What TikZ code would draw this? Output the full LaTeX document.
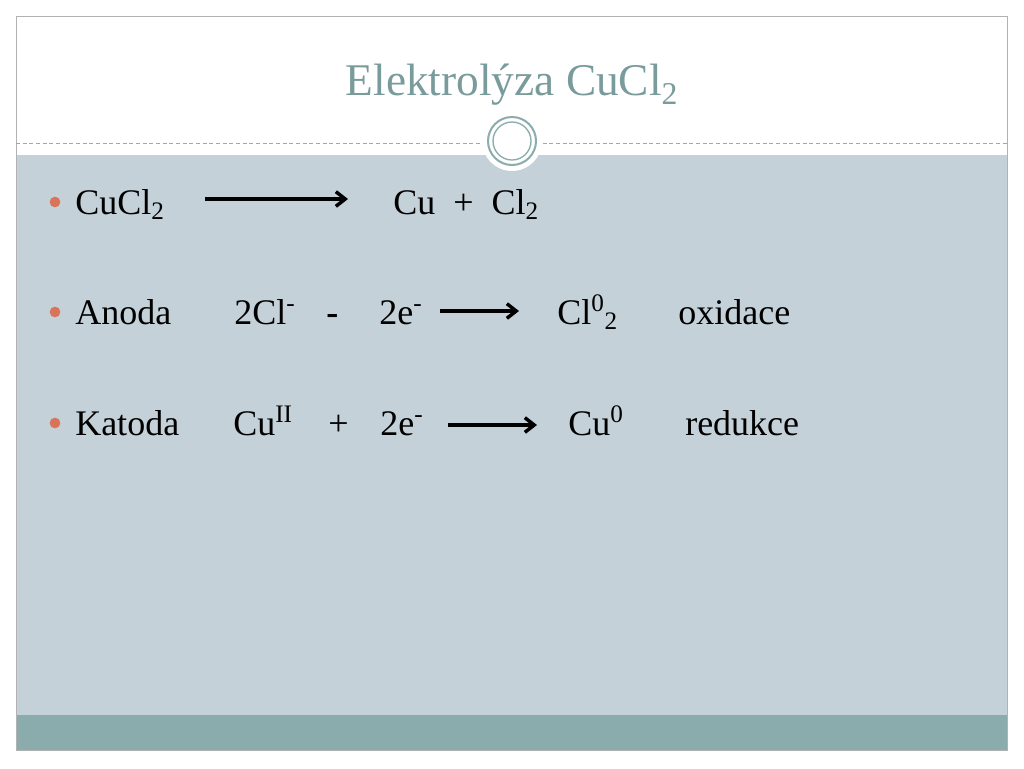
\documentclass[tikz,border=0pt]{standalone}
\usepackage{fontspec}
\setmainfont{Liberation Serif}
\usetikzlibrary{positioning,arrows.meta}
\definecolor{bodygray}{HTML}{C5D1D8}
\definecolor{bandteal}{HTML}{8AACAC}
\definecolor{titleteal}{HTML}{7A9B9B}
\definecolor{bulletred}{HTML}{D9735A}
\begin{document}
\begin{tikzpicture}[x=0.75pt,y=-0.75pt]

\tikzset{
  line/.style={font=\fontsize{27}{30}\selectfont, anchor=base west, inner sep=0pt},
  bul/.style={circle, fill=bulletred, inner sep=0pt, minimum size=8pt},
  rarr/.style={line width=2.6pt, -{Straight Barb[length=7pt,width=11pt]}},
}

\useasboundingbox (0,0) rectangle (1024,768);
\fill[white] (0,0) rectangle (1024,768);
\fill[bodygray] (16,155) rectangle (1007,715);
\fill[bandteal] (16,715) rectangle (1007,750);
\draw[gray!60] (16,16) rectangle (1007,750);
\draw[gray!70, densely dashed] (16,143) -- (1007,143);
\fill[white] (512,141) circle (30);
\draw[bandteal, line width=1.5pt] (512,141) circle (24);
\draw[bandteal, line width=1pt] (512,141) circle (19);

\node[font=\fontsize{34}{38}\selectfont, text=titleteal, anchor=base] (title) at (512,95) {Elektrolýza CuCl\textsubscript{2}};

% radek 1
\node[bul] (b1) at (55,202) {};
\node[line] (r1a) at (75,214) {CuCl\textsubscript{2}};
\node[line] (r1b) at (393,214) {Cu \ + \ Cl\textsubscript{2}};
\coordinate (a1s) at (205,199);
\coordinate (a1e) at (348,199);
\draw[rarr] (a1s) -- (a1e);

% radek 2
\node[bul] (b2) at (55,312) {};
\node[line] (r2a) at (75,324) {Anoda};
\node[line] (r2b) at (234,324) {2Cl\textsuperscript{-}};
\node[line] (r2c) at (326,324) {\textbf{-}};
\node[line] (r2d) at (379,324) {2e\textsuperscript{-}};
\node[line] (r2e) at (557,324) {Cl\textsuperscript{0}\textsubscript{2}};
\node[line] (r2f) at (678,324) {oxidace};
\coordinate (a2s) at (440,311);
\coordinate (a2e) at (519,311);
\draw[rarr] (a2s) -- (a2e);

% radek 3
\node[bul] (b3) at (55,423) {};
\node[line] (r3a) at (75,435) {Katoda};
\node[line] (r3b) at (233,435) {Cu\textsuperscript{II}};
\node[line] (r3c) at (328,435) {+};
\node[line] (r3d) at (380,435) {2e\textsuperscript{-}};
\node[line] (r3e) at (568,435) {Cu\textsuperscript{0}};
\node[line] (r3f) at (685,435) {redukce};
\coordinate (a3s) at (448,425);
\coordinate (a3e) at (537,425);
\draw[rarr] (a3s) -- (a3e);

\end{tikzpicture}
\end{document}
